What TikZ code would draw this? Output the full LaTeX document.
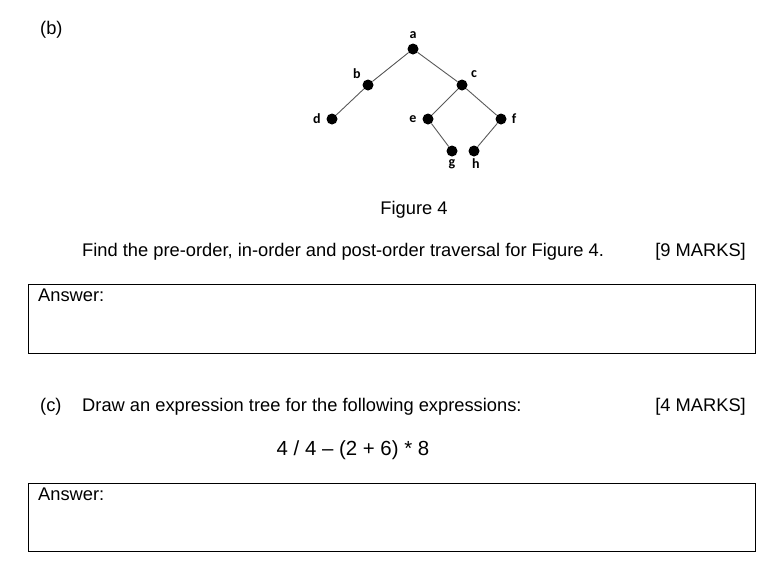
\documentclass[tikz,border=0pt]{standalone}
\usepackage{fontspec}
\setmainfont{Liberation Sans}
\newfontfamily\lblfont{Carlito}
\begin{document}
\begin{tikzpicture}[x=1pt,y=-1pt,
  dot/.style={circle,fill=black,inner sep=0pt,minimum size=11pt},
  lbl/.style={font=\lblfont\bfseries\fontsize{14}{14}\selectfont,inner sep=0pt},
  txt/.style={font=\fontsize{18.3}{20}\selectfont,inner sep=0pt},
  edge/.style={draw=black!65,line width=0.9pt},
  box/.style={draw=black,line width=0.8pt}]
\useasboundingbox (0,0) rectangle (768,568);
\node[dot] (a) at (413,49) {};
\node[dot] (b) at (368,85) {};
\node[dot] (c) at (462,85) {};
\node[dot] (d) at (332,119) {};
\node[dot] (e) at (428,119) {};
\node[dot] (f) at (501,119) {};
\node[dot] (g) at (452,151) {};
\node[dot] (h) at (474,151) {};
\draw[edge] (a)--(b) (a)--(c) (b)--(d) (c)--(e) (c)--(f) (e)--(g) (f)--(h);
\node[lbl] (la) at (413,35) {a};
\node[lbl] (lb) at (357,74) {b};
\node[lbl] (lc) at (474,74) {c};
\node[lbl] (ld) at (317,119) {d};
\node[lbl] (le) at (413,119) {e};
\node[lbl] (lf) at (514,119) {f};
\node[lbl] (lg) at (452,164) {g};
\node[lbl] (lh) at (476,164) {h};
\node[txt,anchor=west] (tb) at (40,30) {(b)};
\node[txt] (fig) at (414,210) {Figure 4};
\node[txt,anchor=west] (q1) at (82,252) {Find the pre-order, in-order and post-order traversal for Figure 4.};
\node[txt,anchor=east] (m1) at (746,252) {[9 MARKS]};
\draw[box] (28,284) rectangle (755,353);
\node[txt,anchor=west] (ans1) at (38,295) {Answer:};
\node[txt,anchor=west] (tc) at (40,407) {(c)};
\node[txt,anchor=west] (q2) at (82,407) {Draw an expression tree for the following expressions:};
\node[txt,anchor=east] (m2) at (746,407) {[4 MARKS]};
\node[font=\fontsize{20.4}{22}\selectfont,inner sep=0pt] (ex) at (353,450) {4 / 4 – (2 + 6) * 8};
\draw[box] (28,483) rectangle (755,551);
\node[txt,anchor=west] (ans2) at (38,494) {Answer:};
\end{tikzpicture}
\end{document}
